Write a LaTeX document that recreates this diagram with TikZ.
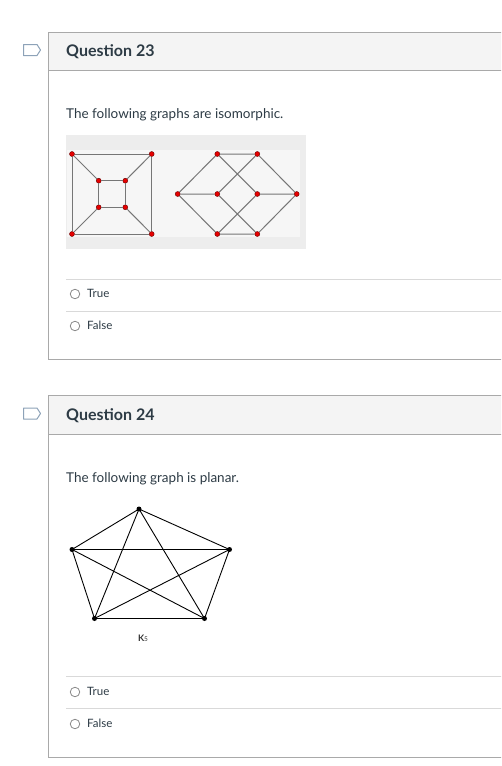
\documentclass[tikz,border=0pt]{standalone}
\usepackage{fontspec}
\setmainfont{Lato}
\definecolor{txt}{HTML}{2D3B45}
\definecolor{bordergray}{HTML}{A9A9A9}
\definecolor{sepgray}{HTML}{D9D9D9}
\definecolor{hdrfill}{HTML}{F4F4F4}
\definecolor{flagc}{HTML}{8DA2B8}
\definecolor{radiogray}{HTML}{8A8A8A}
\definecolor{imgbg}{HTML}{EDEDED}
\definecolor{imgin}{HTML}{F6F6F6}
\definecolor{gedgec}{HTML}{767676}
\tikzset{
  boxline/.style={draw=bordergray, line width=1pt},
  hdr/.style={anchor=base west, font=\fontsize{16}{18}\selectfont\bfseries, text=txt, inner sep=0pt},
  bodytext/.style={anchor=base west, font=\fontsize{13.5}{15}\selectfont, text=txt, inner sep=0pt},
  opttext/.style={anchor=base west, font=\fontsize{11.5}{13}\selectfont, text=txt, inner sep=0pt},
  radio/.style={circle, draw=radiogray, line width=0.8pt, minimum size=9.5pt, inner sep=0pt},
  sepline/.style={draw=sepgray, line width=1pt},
  flagshape/.style={draw=flagc, line width=1pt, line join=round},
  rdot/.style={circle, fill=red!90!black, draw=red!40!black, line width=0.4pt, minimum size=5pt, inner sep=0pt},
  bdot/.style={circle, fill=black, minimum size=5pt, inner sep=0pt},
  gedge/.style={draw=gedgec, line width=1pt},
  kedge/.style={draw=black, line width=0.9pt},
}
\begin{document}
\begin{tikzpicture}[x=1pt,y=-1pt]
\useasboundingbox (0,0) rectangle (501,766);
\clip (0,0) rectangle (501,766);
\fill[white] (0,0) rectangle (501,766);

% ---------- Question 23 ----------
\fill[hdrfill] (48,32.5) rectangle (510,70.5);
\draw[boxline] (510,32.5) -- (48,32.5) -- (48,359) -- (510,359);
\draw[boxline] (48,70.5) -- (510,70.5);
\draw[flagshape] (23.5,44.5) -- (37,44.5) -- (40.5,50) -- (37,55.5) -- (23.5,55.5) -- cycle;
\node[hdr] (h1) at (66,56) {Question 23};
\node[bodytext] (q1) at (66,118.5) {The following graphs are isomorphic.};

% image
\fill[imgbg] (66,135) rectangle (306,249);
\fill[imgin] (67,150) rectangle (300,237);
% left graph
\node[rdot] (a1) at (72,154) {};
\node[rdot] (a2) at (151.7,154) {};
\node[rdot] (a3) at (151.7,234) {};
\node[rdot] (a4) at (72,234) {};
\node[rdot] (b1) at (98.7,180.7) {};
\node[rdot] (b2) at (125.3,180.7) {};
\node[rdot] (b3) at (125.3,207.3) {};
\node[rdot] (b4) at (98.7,207.3) {};
\path[gedge] (a1) -- (a2) (a2) -- (a3) (a3) -- (a4) (a4) -- (a1);
\path[gedge] (b1) -- (b2) (b2) -- (b3) (b3) -- (b4) (b4) -- (b1);
\path[gedge] (a1) -- (b1) (a2) -- (b2) (a3) -- (b3) (a4) -- (b4);
% right graph
\node[rdot] (t1) at (217.3,154) {};
\node[rdot] (t2) at (257.3,154) {};
\node[rdot] (l) at (177.7,194) {};
\node[rdot] (m1) at (217.3,194) {};
\node[rdot] (m2) at (257.3,194) {};
\node[rdot] (r) at (296.7,194) {};
\node[rdot] (u1) at (217.3,234) {};
\node[rdot] (u2) at (257.3,234) {};
\path[gedge] (t1) -- (t2) (t1) -- (l) (t1) -- (m2) (t2) -- (m1) (t2) -- (r)
  (l) -- (m1) (m2) -- (r) (l) -- (u1) (r) -- (u2) (u1) -- (u2) (m1) -- (u2) (m2) -- (u1);

% options
\coordinate (s1a) at (66,279.5);
\coordinate (s1b) at (510,279.5);
\coordinate (s2a) at (66,311);
\coordinate (s2b) at (510,311);
\draw[sepline] (s1a) -- (s1b);
\draw[sepline] (s2a) -- (s2b);
\node[radio] (r1) at (75,294) {};
\node[opttext] (o1) at (87,297.5) {True};
\node[radio] (r2) at (75,326) {};
\node[opttext] (o2) at (87,329.5) {False};

% ---------- Question 24 ----------
\fill[hdrfill] (48,395.5) rectangle (510,434.5);
\draw[boxline] (510,395.5) -- (48,395.5) -- (48,757) -- (510,757);
\draw[boxline] (48,434.5) -- (510,434.5);
\draw[flagshape] (23.5,408) -- (37,408) -- (40.5,413.5) -- (37,419) -- (23.5,419) -- cycle;
\node[hdr] (h2) at (66,420) {Question 24};
\node[bodytext] (q2) at (66,482.5) {The following graph is planar.};

% K5
\node[bdot] (k1) at (139,509) {};
\node[bdot] (k2) at (72,549.5) {};
\node[bdot] (k3) at (229.5,549.5) {};
\node[bdot] (k4) at (94.5,618.5) {};
\node[bdot] (k5) at (204.5,618.5) {};
\path[kedge] (k1.center) -- (k2.center) (k1.center) -- (k3.center) (k1.center) -- (k4.center) (k1.center) -- (k5.center)
  (k2.center) -- (k3.center) (k2.center) -- (k4.center) (k2.center) -- (k5.center)
  (k3.center) -- (k4.center) (k3.center) -- (k5.center) (k4.center) -- (k5.center);
\node[font=\fontsize{9}{10}\selectfont\bfseries, text=black!80, inner sep=0pt, anchor=base] (klab) at (143,641) {K\raisebox{-0.8pt}{\fontsize{6.5}{7}\selectfont\mdseries 5}};

\coordinate (s3a) at (66,676.5);
\coordinate (s3b) at (510,676.5);
\coordinate (s4a) at (66,708.5);
\coordinate (s4b) at (510,708.5);
\draw[sepline] (s3a) -- (s3b);
\draw[sepline] (s4a) -- (s4b);
\node[radio] (r3) at (75,692) {};
\node[opttext] (o3) at (87,695.5) {True};
\node[radio] (r4) at (75,724) {};
\node[opttext] (o4) at (87,727.5) {False};
\end{tikzpicture}
\end{document}
